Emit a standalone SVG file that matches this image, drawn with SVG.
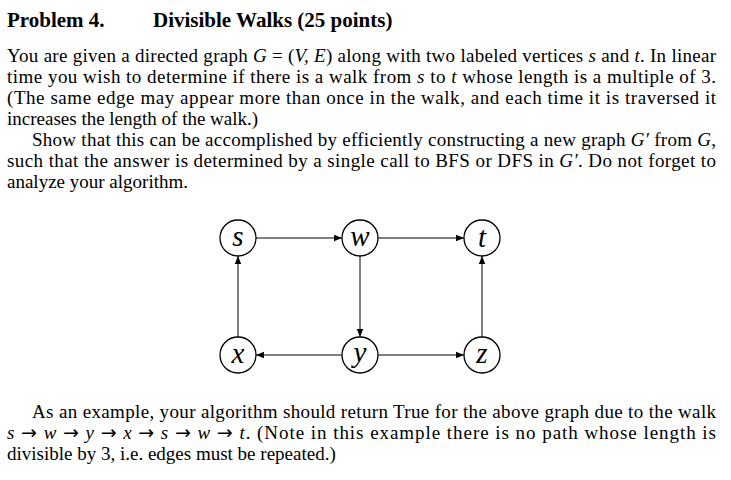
<svg xmlns="http://www.w3.org/2000/svg" width="731" height="480" viewBox="0 0 731 480">
<style>
.t{font-family:"Liberation Serif","DejaVu Serif",serif;font-size:19px;fill:#000}
.h{font-family:"Liberation Serif","DejaVu Serif",serif;font-size:21px;font-weight:bold;fill:#000}
.n{fill:#fff;stroke:#000;stroke-width:1.3}
.l{font-family:"Liberation Serif","DejaVu Serif",serif;font-size:29px;font-style:italic;text-anchor:middle;fill:#000}
.e{stroke:#000;stroke-width:1;fill:none;marker-end:url(#a)}
.ar{font-family:"DejaVu Sans",sans-serif;font-style:normal}
</style>
<defs><marker id="a" viewBox="0 0 10 10" refX="10" refY="5" markerWidth="8" markerHeight="8" orient="auto"><path d="M0,1 L10,5 L0,9 Z" fill="#000"/></marker></defs>
<rect width="731" height="480" fill="#fff"/>
<text class="h" x="7" y="27">Problem 4.</text>
<text class="h" x="153" y="27">Divisible Walks (25 points)</text>
<text class="t" x="7" y="62" textLength="709" lengthAdjust="spacing">You are given a directed graph <tspan font-style="italic">G</tspan> = (<tspan font-style="italic">V, E</tspan>) along with two labeled vertices <tspan font-style="italic">s</tspan> and <tspan font-style="italic">t</tspan>. In linear</text>
<text class="t" x="7" y="83" textLength="709" lengthAdjust="spacing">time you wish to determine if there is a walk from <tspan font-style="italic">s</tspan> to <tspan font-style="italic">t</tspan> whose length is a multiple of 3.</text>
<text class="t" x="7" y="104" textLength="709" lengthAdjust="spacing">(The same edge may appear more than once in the walk, and each time it is traversed it</text>
<text class="t" x="7" y="125">increases the length of the walk.)</text>
<text class="t" x="32" y="146" textLength="684" lengthAdjust="spacing">Show that this can be accomplished by efficiently constructing a new graph <tspan font-style="italic">G′</tspan> from <tspan font-style="italic">G</tspan>,</text>
<text class="t" x="7" y="167" textLength="709" lengthAdjust="spacing">such that the answer is determined by a single call to BFS or DFS in <tspan font-style="italic">G′</tspan>. Do not forget to</text>
<text class="t" x="7" y="188">analyze your algorithm.</text>
<g id="connectors">
<line class="e" x1="256" y1="238" x2="342" y2="238"/>
<line class="e" x1="378" y1="238" x2="464" y2="238"/>
<line class="e" x1="360" y1="256" x2="360" y2="337"/>
<line class="e" x1="342" y1="355" x2="256" y2="355"/>
<line class="e" x1="378" y1="355" x2="464" y2="355"/>
<line class="e" x1="482" y1="337" x2="482" y2="256"/>
<line class="e" x1="238" y1="337" x2="238" y2="256"/>
</g>
<g id="s"><circle class="n" cx="238" cy="238" r="18"/><text class="l" x="238" y="246">s</text></g>
<g id="w"><circle class="n" cx="360" cy="238" r="18"/><text class="l" x="360" y="246">w</text></g>
<g id="t"><circle class="n" cx="482" cy="238" r="18"/><text class="l" x="482" y="247">t</text></g>
<g id="x"><circle class="n" cx="238" cy="355" r="18"/><text class="l" x="238" y="363">x</text></g>
<g id="y"><circle class="n" cx="360" cy="355" r="18"/><text class="l" x="360" y="362">y</text></g>
<g id="z"><circle class="n" cx="482" cy="355" r="18"/><text class="l" x="482" y="363">z</text></g>
<text class="t" x="32" y="418" textLength="684" lengthAdjust="spacing">As an example, your algorithm should return True for the above graph due to the walk</text>
<text class="t" x="7" y="439" textLength="709" lengthAdjust="spacing"><tspan font-style="italic">s</tspan> <tspan class="ar">→</tspan> <tspan font-style="italic">w</tspan> <tspan class="ar">→</tspan> <tspan font-style="italic">y</tspan> <tspan class="ar">→</tspan> <tspan font-style="italic">x</tspan> <tspan class="ar">→</tspan> <tspan font-style="italic">s</tspan> <tspan class="ar">→</tspan> <tspan font-style="italic">w</tspan> <tspan class="ar">→</tspan> <tspan font-style="italic">t</tspan>. (Note in this example there is no path whose length is</text>
<text class="t" x="7" y="460">divisible by 3, i.e. edges must be repeated.)</text>
</svg>
